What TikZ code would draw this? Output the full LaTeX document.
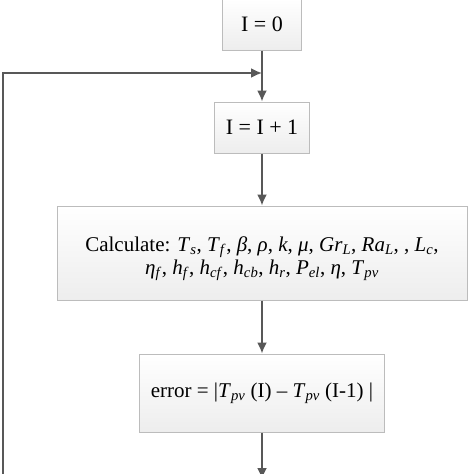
\documentclass[tikz,border=0pt]{standalone}
\usepackage{fontspec}
\setmainfont{Liberation Serif}
\usetikzlibrary{positioning,arrows.meta}
\definecolor{linegray}{RGB}{88,88,88}
\definecolor{boxedge}{RGB}{188,188,188}
\tikzset{>={Latex[length=11pt,width=10pt]}}
\tikzstyle{box}    = [draw=boxedge,
                      line width=1pt,
                      top color=white,
                      bottom color=black!7,
                      align=center,
                      font=\fontsize{21}{23}\selectfont]
\tikzstyle{arrow}  = [->,
                      draw=linegray,
                      line width=1.8pt]
\newcommand{\vsub}[2]{\textit{#1}\textsubscript{\textit{#2}}}

\begin{document}
\begin{tikzpicture}

  \useasboundingbox (0,0) rectangle (474pt,-474pt);

  % Nodes
  \node[box, minimum width=79pt, minimum height=51pt, font=\fontsize{22}{24}\selectfont] (init) at (262pt,-24.5pt) {I = 0};
  \node[box, minimum width=95pt, minimum height=51pt, font=\fontsize{22}{24}\selectfont, below=51pt of init] (incr) {I = I + 1};
  \node[box, minimum width=410pt, minimum height=94pt, below=52pt of incr] (calc)
    {\rule{0pt}{26pt}Calculate: \vsub{T}{s}, \vsub{T}{f}, \textit{β}, \textit{ρ}, \textit{k}, \textit{μ}, \vsub{Gr}{L}, \vsub{Ra}{L}, , \vsub{L}{c},\\
     \vsub{η}{f}, \vsub{h}{f}, \vsub{h}{cf}, \vsub{h}{cb}, \vsub{h}{r}, \vsub{P}{el}, \textit{η}, \vsub{T}{pv}};
  \node[box, minimum width=245pt, minimum height=78pt, below=53pt of calc] (err)
    {error = |\vsub{T}{pv} (I) – \vsub{T}{pv} (I-1) |};

  % Loop coordinates
  \coordinate (join)    at (262pt,-73pt);
  \coordinate (loopend) at (3pt,-480pt);
  \coordinate (next)    at (262pt,-479pt);

  % Edges
  \draw[style=arrow] (init) -- (incr);
  \draw[style=arrow] (loopend) |- (join);
  \draw[style=arrow] (incr) -- (calc);
  \draw[style=arrow] (calc) -- (err);
  \draw[style=arrow] (err) -- (next);

\end{tikzpicture}
\end{document}
